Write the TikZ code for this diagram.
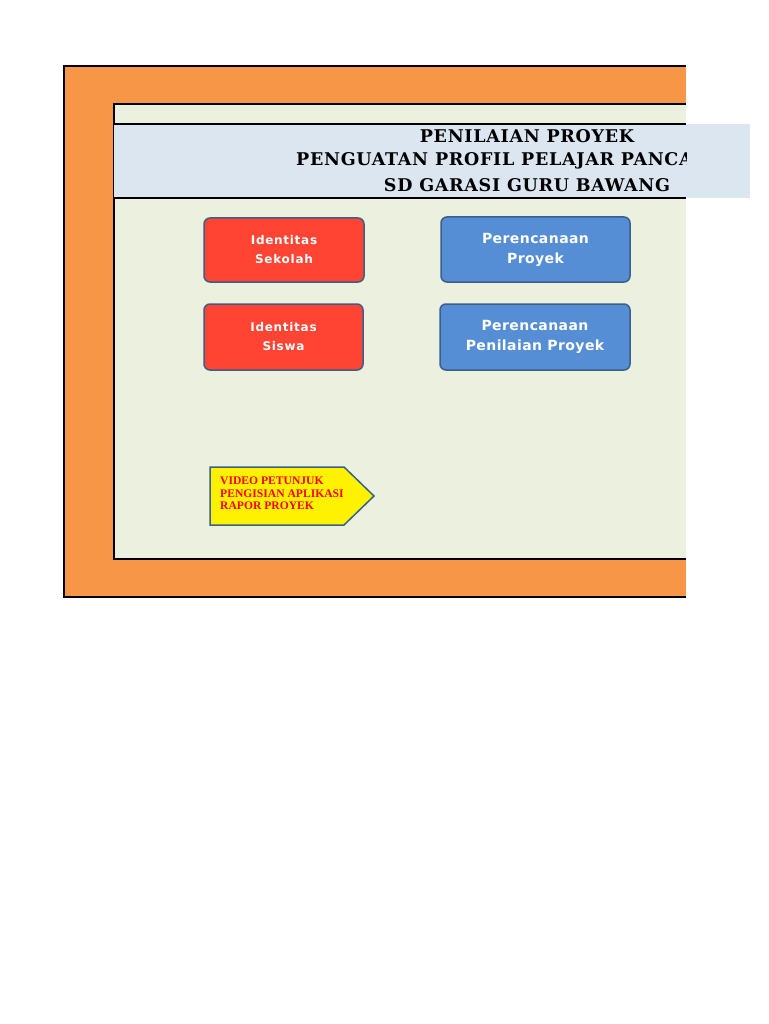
\documentclass[tikz,border=0pt]{standalone}
\usepackage{fontspec}
\setmainfont{Liberation Serif}
\newfontfamily\hdr[LetterSpace=4]{DejaVu Serif}
\newfontfamily\btn[LetterSpace=6]{DejaVu Sans}
\newfontfamily\btnb[LetterSpace=3]{DejaVu Sans}
\definecolor{org}{HTML}{F79646}
\definecolor{pale}{HTML}{EBF1DE}
\definecolor{band}{HTML}{DCE6F1}
\definecolor{rbtn}{HTML}{FF4433}
\definecolor{bbtn}{HTML}{558ED5}
\definecolor{bord}{HTML}{3A5F8A}
\tikzset{
 btnbox/.style={draw=bord,line width=1.5pt,rounded corners=6pt,text=white,font=\btn\bfseries\fontsize{12}{19}\selectfont,align=center,inner sep=0pt},
 hdrtext/.style={font=\hdr\bfseries\fontsize{17.5}{18}\selectfont,inner sep=0pt},
}
\begin{document}
\begin{tikzpicture}[x=1pt,y=-1pt]
\useasboundingbox (0,0) rectangle (768,1024);
\fill[white] (0,0) rectangle (768,1024);
\fill[org] (64,66) rectangle (686,597);
\draw[line width=1.5pt] (686,66) -- (64,66) -- (64,597) -- (686,597);
\fill[pale] (114,104) rectangle (686,559);
\draw[line width=1.2pt] (686,104) -- (114,104) -- (114,559) -- (686,559);
\fill[band] (114,124) rectangle (750,198);
\draw[line width=1.2pt] (114,124) -- (686,124);
\draw[line width=1.2pt] (114,198) -- (686,198);
\begin{scope}
\clip (114,120) rectangle (686,200);
\node[hdrtext] (t1) at (527,136) {PENILAIAN PROYEK};
\node[hdrtext,anchor=west] (t2) at (296,161) {PENGUATAN PROFIL PELAJAR PANCASILA};
\node[hdrtext] (t3) at (527,185) {SD GARASI GURU BAWANG};
\end{scope}
\node[btnbox,fill=rbtn,minimum width=160pt,minimum height=64pt] (b1) at (284,250) {Identitas\\Sekolah};
\node[btnbox,fill=rbtn,minimum width=159pt,minimum height=66pt] (b2) at (283.5,337) {Identitas\\Siswa};
\node[btnbox,fill=bbtn,minimum width=189pt,minimum height=65pt,font=\btnb\bfseries\fontsize{14}{20}\selectfont] (b3) at (535.5,249.5) {Perencanaan\\Proyek};
\node[btnbox,fill=bbtn,minimum width=190pt,minimum height=66pt,font=\btnb\bfseries\fontsize{14}{20}\selectfont] (b4) at (535,337) {Perencanaan\\Penilaian Proyek};
\fill[yellow] (210,467) -- (344,467) -- (374,496) -- (344,525) -- (210,525) -- cycle;
\draw[bord,line width=1.5pt] (210,467) -- (344,467) -- (374,496) -- (344,525) -- (210,525) -- cycle;
\node[anchor=north west,text=red,font=\bfseries\fontsize{11.6}{12.5}\selectfont,align=left,inner sep=0pt] (v) at (220,477) {VIDEO PETUNJUK\\PENGISIAN APLIKASI\\RAPOR PROYEK};
\end{tikzpicture}
\end{document}
